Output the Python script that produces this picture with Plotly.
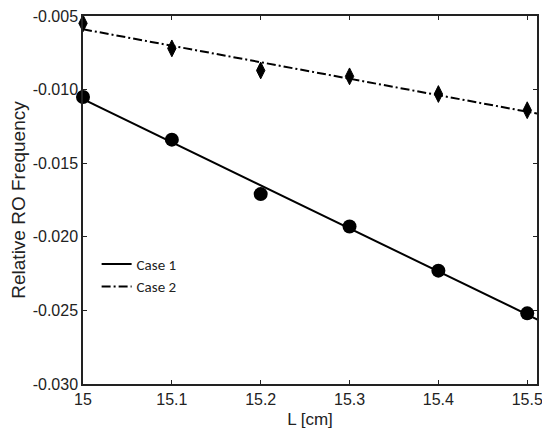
import numpy as np
import plotly.graph_objects as go

# lengths [cm]
L = [15.0, 15.1, 15.2, 15.3, 15.4, 15.5]

# relative RO frequency
case1 = [-0.0105, -0.0134, -0.0171, -0.0193, -0.0223, -0.0252]
case2 = [-0.0055, -0.0072, -0.0087, -0.0091, -0.0103, -0.0114]

y_ticks = [-0.030, -0.025, -0.020, -0.015, -0.010, -0.005]
y_labels = ["-0.030", "-0.025", "-0.020", "-0.015", "-0.010", "-0.005"]
x_ticks = [15, 15.1, 15.2, 15.3, 15.4, 15.5]
x_labels = ["15", "15.1", "15.2", "15.3", "15.4", "15.5"]

x_range = [15.0, 15.511]

# least squares lines through each case
x_fit = np.array([15.0, 15.53])
fit1 = np.polyval(np.polyfit(L, case1, 1), x_fit)
fit2 = np.polyval(np.polyfit(L, case2, 1), x_fit)

fig = go.Figure()

fig.add_trace(go.Scatter(x=x_fit, y=fit1, mode="lines", name="Case 1",
                         line=dict(color="black", width=2)))
fig.add_trace(go.Scatter(x=x_fit, y=fit2, mode="lines", name="Case 2",
                         line=dict(color="black", width=2, dash="9px,3px,2px,3px")))
fig.add_trace(go.Scatter(x=L, y=case1, mode="markers", showlegend=False,
                         cliponaxis=False,
                         marker=dict(symbol="circle", size=14, color="black")))
fig.add_trace(go.Scatter(x=L, y=case2, mode="markers", showlegend=False,
                         cliponaxis=False,
                         marker=dict(symbol="diamond-tall", size=12, color="black",
                                     line=dict(width=1, color="black"))))

axis_common = dict(
    showline=True, linecolor="#222", linewidth=1.5, mirror="ticks",
    ticks="inside", ticklen=4, tickcolor="#222", tickwidth=1,
    showgrid=False, zeroline=False, ticklabeloverflow="allow",
    tickfont=dict(family="Liberation Sans, Arial", size=16, color="#222"),
)

fig.update_xaxes(range=x_range, tickvals=x_ticks, ticktext=x_labels,
                 title=dict(text="L [cm]", standoff=6,
                            font=dict(family="Liberation Sans, Arial", size=17, color="#222")),
                 **axis_common)
fig.update_yaxes(range=[-0.030, -0.005], tickvals=y_ticks, ticktext=y_labels,
                 title=dict(text="Relative RO Frequency", standoff=6,
                            font=dict(family="Liberation Sans, Arial", size=19, color="#222")),
                 **axis_common)

# the page body adds an 8px offset, margins are set with that in mind
fig.update_layout(
    width=550, height=442,
    margin=dict(l=75, r=21, t=8, b=66, autoexpand=False),
    paper_bgcolor="white", plot_bgcolor="white",
    legend=dict(x=0.03, y=0.37, xanchor="left", yanchor="top",
                bgcolor="rgba(0,0,0,0)", itemwidth=30, tracegroupgap=0,
                font=dict(family="Carlito, Open Sans, sans-serif", size=15, color="#222")),
)

fig.write_html("out.html")
